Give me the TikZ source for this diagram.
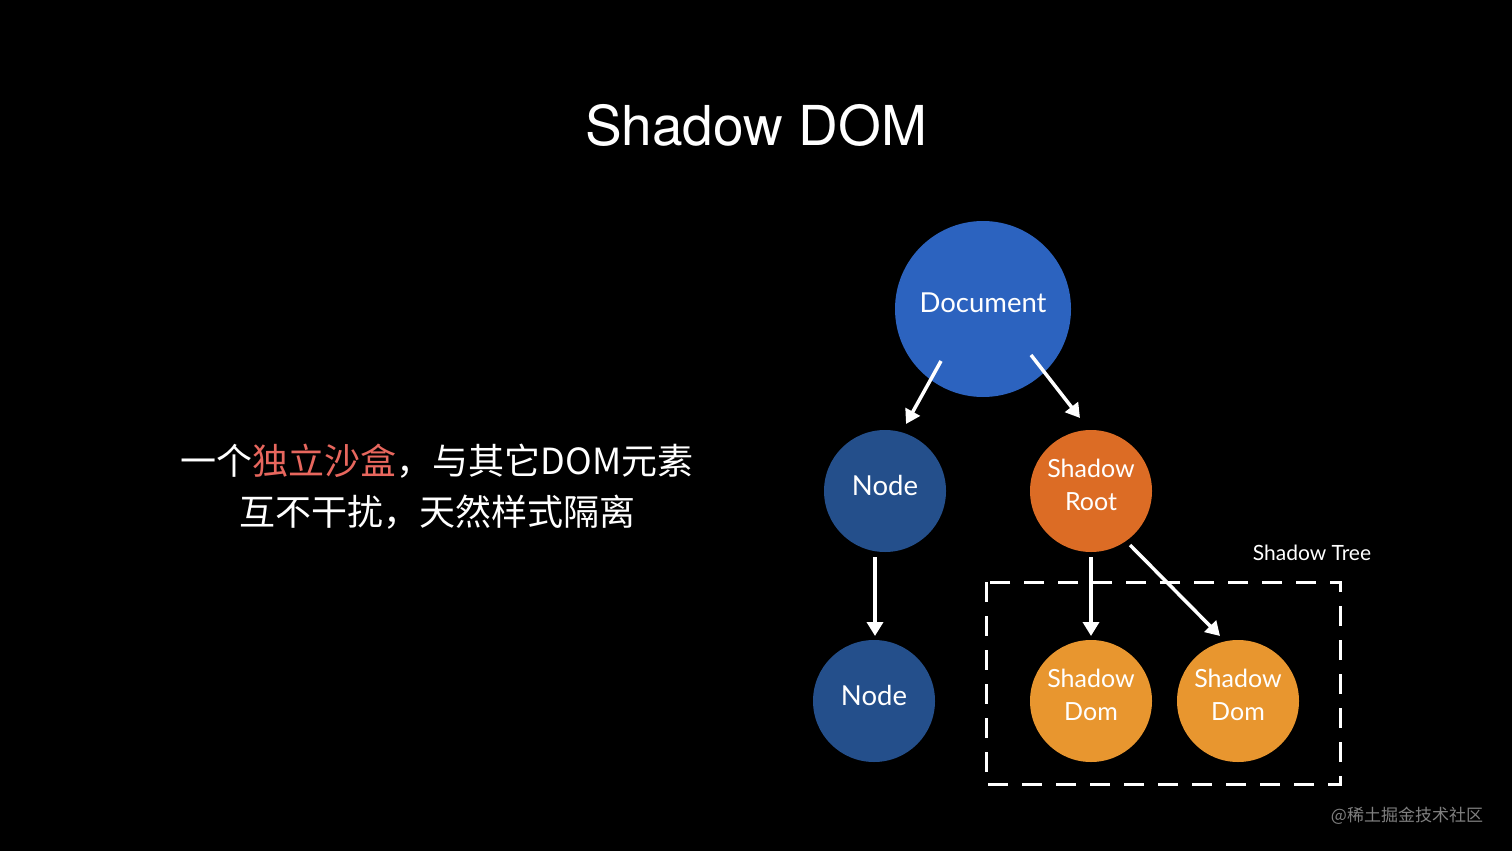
\documentclass[tikz,border=0pt]{standalone}
\usepackage{fontspec}
\setmainfont{Lato}
\newfontfamily\titlefont{TeX Gyre Heros}
\newfontfamily\cjk{Noto Sans CJK SC}
\usetikzlibrary{arrows.meta}
\definecolor{docblue}{HTML}{2C63BF}
\definecolor{nodeblue}{HTML}{244F8B}
\definecolor{rootor}{HTML}{DC6C25}
\definecolor{domor}{HTML}{E8962F}
\definecolor{hl}{HTML}{E8675E}
\tikzset{
 circ/.style={circle,draw=none,text=white,inner sep=0pt,align=center,font=\fontsize{25}{33}\selectfont},
 big/.style={font=\fontsize{27.5}{33}\selectfont},
 arr/.style={white,line width=3.5pt,-{Triangle[length=14pt,width=16pt]}},
}
\begin{document}
\begin{tikzpicture}[x=1pt,y=-1pt]
\fill[black] (0,0) rectangle (1512,851);
\useasboundingbox (0,0) rectangle (1512,851);
\node[text=white,font=\titlefont\fontsize{55}{60}\selectfont] (title) at (756,125) {Shadow DOM};
\node[text=white,font=\cjk\fontsize{36}{51}\selectfont,align=center] (desc) at (437,487) {一个\textcolor{hl}{独立沙盒}，与其它DOM元素\\互不干扰，天然样式隔离};
\node[circ,fill=docblue,minimum size=176pt] (doc) at (983,309) {};
\node[circ,big] (doct) at (983,303) {Document};
\node[circ,fill=nodeblue,minimum size=122pt] (n1) at (885,491) {};
\node[circ,big] (n1t) at (885,485) {Node};
\node[circ,fill=rootor,minimum size=122pt] (sr) at (1091,491) {};
\node[circ] (srt) at (1091,485) {Shadow\\Root};
\node[circ,fill=nodeblue,minimum size=122pt] (n2) at (874,701) {};
\node[circ,big] (n2t) at (874,695) {Node};
\node[circ,fill=domor,minimum size=122pt] (d1) at (1091,701) {};
\node[circ] (d1t) at (1091,695) {Shadow\\Dom};
\node[circ,fill=domor,minimum size=122pt] (d2) at (1238,701) {};
\node[circ] (d2t) at (1238,695) {Shadow\\Dom};
\coordinate (a1s) at (941,361); \coordinate (a1e) at (906,424);
\coordinate (a2s) at (1031,355); \coordinate (a2e) at (1080,418);
\coordinate (a3s) at (875,557); \coordinate (a3e) at (875,636);
\coordinate (a4s) at (1091,557); \coordinate (a4e) at (1091,636);
\coordinate (a5s) at (1130,545); \coordinate (a5e) at (1220,636);
\draw[arr] (a1s) -- (a1e);
\draw[arr] (a2s) -- (a2e);
\draw[arr] (a3s) -- (a3e);
\draw[arr] (a4s) -- (a4e);
\draw[arr] (a5s) -- (a5e);
\draw[white,line width=3pt,dash pattern=on 20pt off 14pt] (986,582) rectangle (1340,784);
\node[text=white,font=\fontsize{21}{22}\selectfont] (st) at (1312,553) {Shadow Tree};
\node[text=gray,font=\cjk\fontsize{17}{18}\selectfont] (wm) at (1407,816) {@稀土掘金技术社区};
\end{tikzpicture}
\end{document}
